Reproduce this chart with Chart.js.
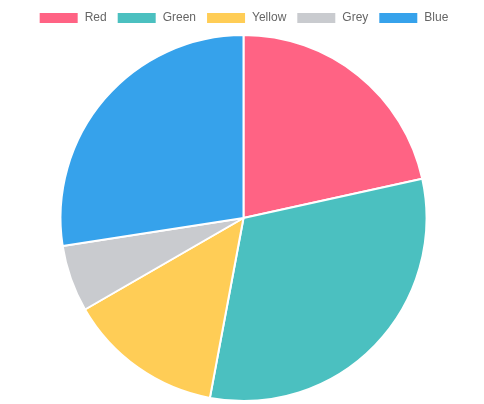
<!DOCTYPE html>
<html>
<head>
<meta charset="utf-8">
<script src="https://cdn.jsdelivr.net/npm/chart.js@4"></script>
<style>
html,body{margin:0;padding:0;background:#fff;}
#wrap{width:484px;height:404px;}
</style>
</head>
<body>
<div id="wrap"><canvas id="c"></canvas></div>
<script>
const labels = ['Red', 'Green', 'Yellow', 'Grey', 'Blue'];
const values = [11, 16, 7, 3, 14];
const colors = ['rgb(255, 99, 132)', 'rgb(75, 192, 192)', 'rgb(255, 205, 86)', 'rgb(201, 203, 207)', 'rgb(54, 162, 235)'];

Chart.defaults.font.family = "'Liberation Sans', Arial, Helvetica, sans-serif";
new Chart(document.getElementById('c'), {
  type: 'pie',
  data: {
    labels: labels,
    datasets: [{
      data: values,
      backgroundColor: colors,
      borderColor: '#fff',
      borderWidth: 2
    }]
  },
  options: {
    responsive: true,
    maintainAspectRatio: false,
    animation: false,
    layout: { padding: { top: 2, bottom: 2, left: 3, right: 0 } },
    plugins: {
      legend: { position: 'top' }
    }
  }
});
</script>
</body>
</html>
